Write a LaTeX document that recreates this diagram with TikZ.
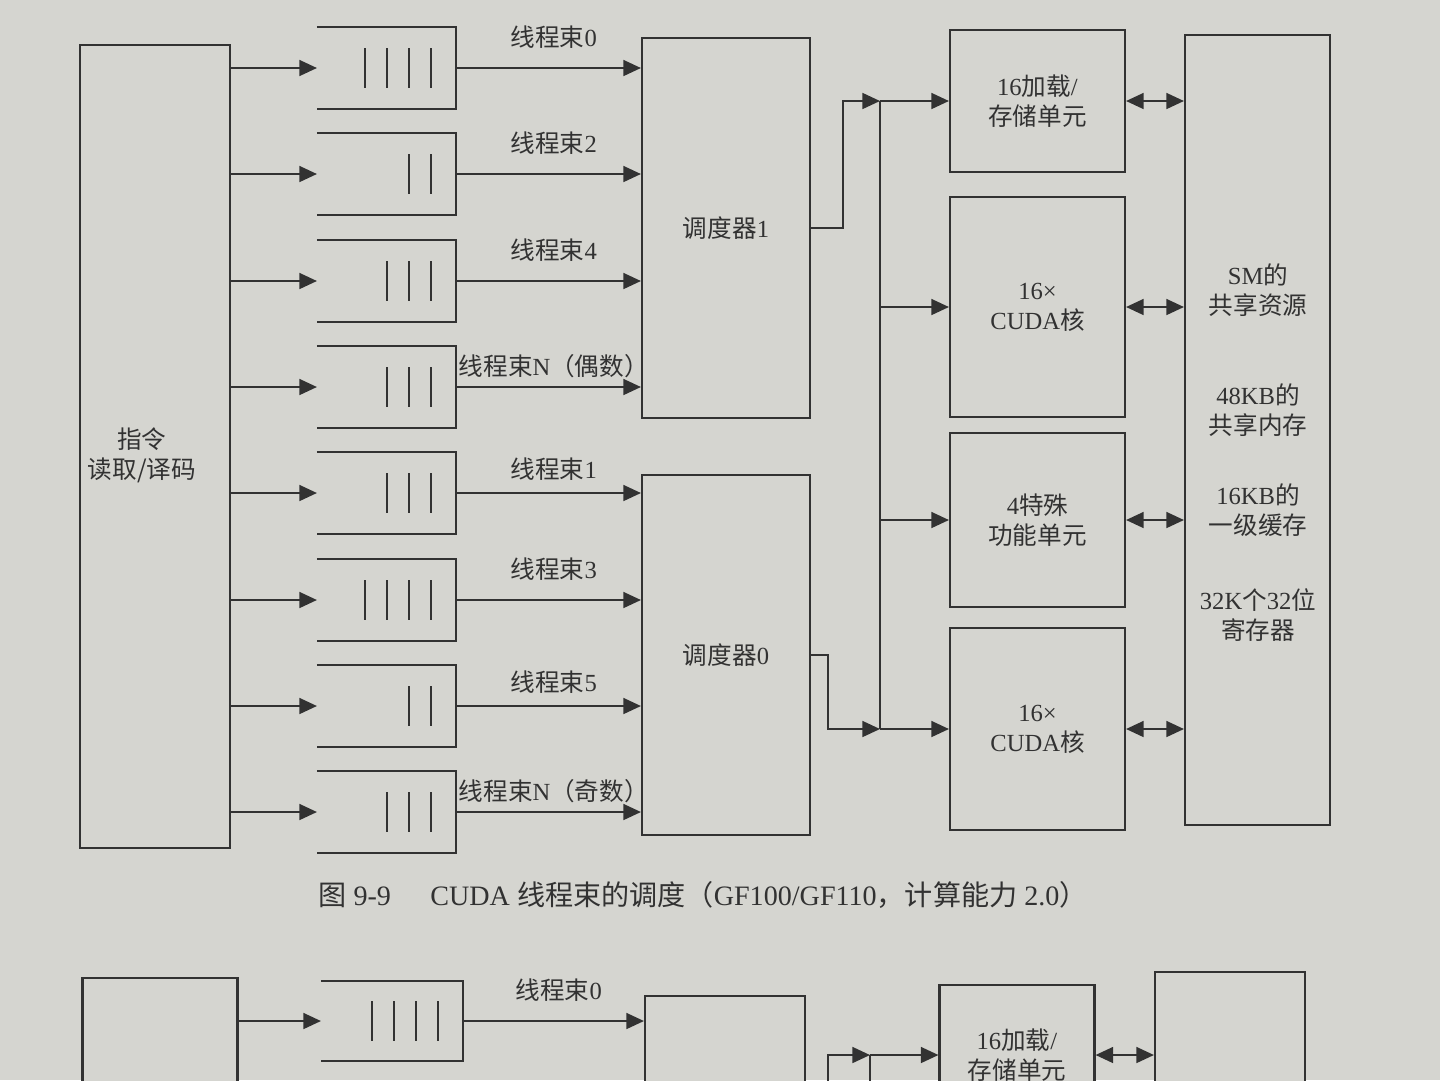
\documentclass[tikz,border=0pt]{standalone}
\usepackage{fontspec}
\setmainfont{Liberation Serif}
\newfontfamily\cjk{Noto Sans CJK SC}
\usetikzlibrary{arrows.meta,positioning,calc}
\definecolor{paper}{RGB}{213,213,208}
\definecolor{ink}{RGB}{50,50,50}
\newcommand{\zh}[1]{{\cjk #1}}
\tikzset{
 blk/.style={draw=ink,fill=paper,inner sep=0pt,align=center},
 que/.style={inner sep=0pt,minimum width=2.74cm,minimum height=1.6cm},
 arr/.style={-{Triangle[length=10pt,width=9pt]}},
 darr/.style={{Triangle[length=10pt,width=9pt]}-{Triangle[length=10pt,width=9pt]}}
}
\begin{document}
\begin{tikzpicture}[x=0.02cm,y=-0.02cm,line width=1.2pt,draw=ink,text=ink,font=\fontsize{14}{17}\selectfont]
\fill[paper,use as bounding box](0,0)rectangle(1440,1080);
\clip(0,0)rectangle(1440,1080);
\node[blk,minimum width=3cm,minimum height=16.06cm](fetch)at(155,446.5){};
\node[align=center](fetchtxt)at(142,455){\zh{指令}\\\zh{读取/译码}};
\foreach \n/\y/\k in {w0/68/4,w2/174/2,w4/281/3,wNe/387/3,w1/493/3,w3/600/4,w5/706/2,wNo/812/3}{
 \node[que](\n)at(386.5,\y){};
 \draw(\n.north west)--(\n.north east)--(\n.south east)--(\n.south west);
 \foreach \i in {1,...,\k}{\draw($(\n.east)+(-3-22*\i,-20)$)--++(0,40);}
 \draw[arr](fetch.east|-\n.west)--(\n.west);
}
\node[blk,minimum width=3.36cm,minimum height=7.6cm](s1)at(726,228){\zh{调度器}1};
\node[blk,minimum width=3.36cm,minimum height=7.2cm](s0)at(726,655){\zh{调度器}0};
\foreach \n/\s/\g/\t in {w0/s1/7/{\zh{线程束}0},w2/s1/7/{\zh{线程束}2},w4/s1/7/{\zh{线程束}4},wNe/s1/1/{\zh{线程束}N\zh{（偶数）}},w1/s0/3/{\zh{线程束}1},w3/s0/7/{\zh{线程束}3},w5/s0/3/{\zh{线程束}5},wNo/s0/1/{\zh{线程束}N\zh{（奇数）}}}{\draw[arr](\n.east)--(\n.east-|\s.west)node[midway,above=\g pt,xshift=3pt]{\t};}
\node[blk,minimum width=3.5cm,minimum height=2.84cm](lsu)at(1037.5,101){16\zh{加载}/\\\zh{存储单元}};
\node[blk,minimum width=3.5cm,minimum height=4.4cm](cuda1)at(1037.5,307){16×\\CUDA\zh{核}};
\node[blk,minimum width=3.5cm,minimum height=3.48cm](sfu)at(1037.5,520){4\zh{特殊}\\\zh{功能单元}};
\node[blk,minimum width=3.5cm,minimum height=4.04cm](cuda0)at(1037.5,729){16×\\CUDA\zh{核}};
\node[blk,minimum width=2.9cm,minimum height=15.8cm](sm)at(1257.5,430){};
\foreach \y/\a [count=\c] in {290/{SM\zh{的}\\\zh{共享资源}},410/{48KB\zh{的}\\\zh{共享内存}},510/{16KB\zh{的}\\\zh{一级缓存}},615/{32K\zh{个}32\zh{位}\\\zh{寄存器}}}{\node[align=center](sm\c)at(1258,\y){\a};}
\coordinate(j1)at(843,101);
\coordinate(bt)at(880,101);
\coordinate(bb)at(880,729);
\coordinate(j0)at(828,729);
\draw[arr](s1.east)-|(j1)--(bt);
\draw[arr](bt)--(lsu.west);
\draw(bt)--(bb);
\draw[arr](bt|-cuda1.west)--(cuda1.west);
\draw[arr](bt|-sfu.west)--(sfu.west);
\draw[arr](s0.east)-|(j0)--(bb);
\draw[arr](bb)--(cuda0.west);
\foreach \u in {lsu,cuda1,sfu,cuda0}{\draw[darr](\u.east)--(\u.east-|sm.west);}
\node[font=\fontsize{16}{19}\selectfont](cap)at(703,895){\zh{图} 9-9\hspace{1.4em}CUDA \zh{线程束的调度（}GF100/GF110\zh{，计算能力} 2.0\zh{）}};
\node[blk,minimum width=3.1cm,minimum height=4.88cm](fetchb)at(160,1100){};
\node[que,minimum width=2.8cm,minimum height=1.56cm](wb)at(392,1021){};
\draw(wb.north west)--(wb.north east)--(wb.south east)--(wb.south west);
\foreach \i in {1,...,4}{\draw($(wb.east)+(-3-22*\i,-20)$)--++(0,40);}
\draw[arr](fetchb.east|-wb.west)--(wb.west);
\node[blk,minimum width=3.2cm,minimum height=6.16cm](sb)at(725,1150){};
\draw[arr](wb.east)--(wb.east-|sb.west)node[midway,above=7pt,xshift=3pt]{\zh{线程束}0};
\node[blk,minimum width=3.1cm,minimum height=2.8cm](lsub)at(1017,1055){16\zh{加载}/\\\zh{存储单元}};
\node[blk,minimum width=3cm,minimum height=15.92cm](smb)at(1230,1370){};
\coordinate(jb)at(828,1055);
\coordinate(btb)at(870,1055);
\coordinate(bbb)at(870,1120);
\draw[arr](sb.east)-|(jb)--(btb);
\draw[arr](btb)--(lsub.west);
\draw(btb)--(bbb);
\draw[darr](lsub.east)--(lsub.east-|smb.west);
\end{tikzpicture}
\end{document}
